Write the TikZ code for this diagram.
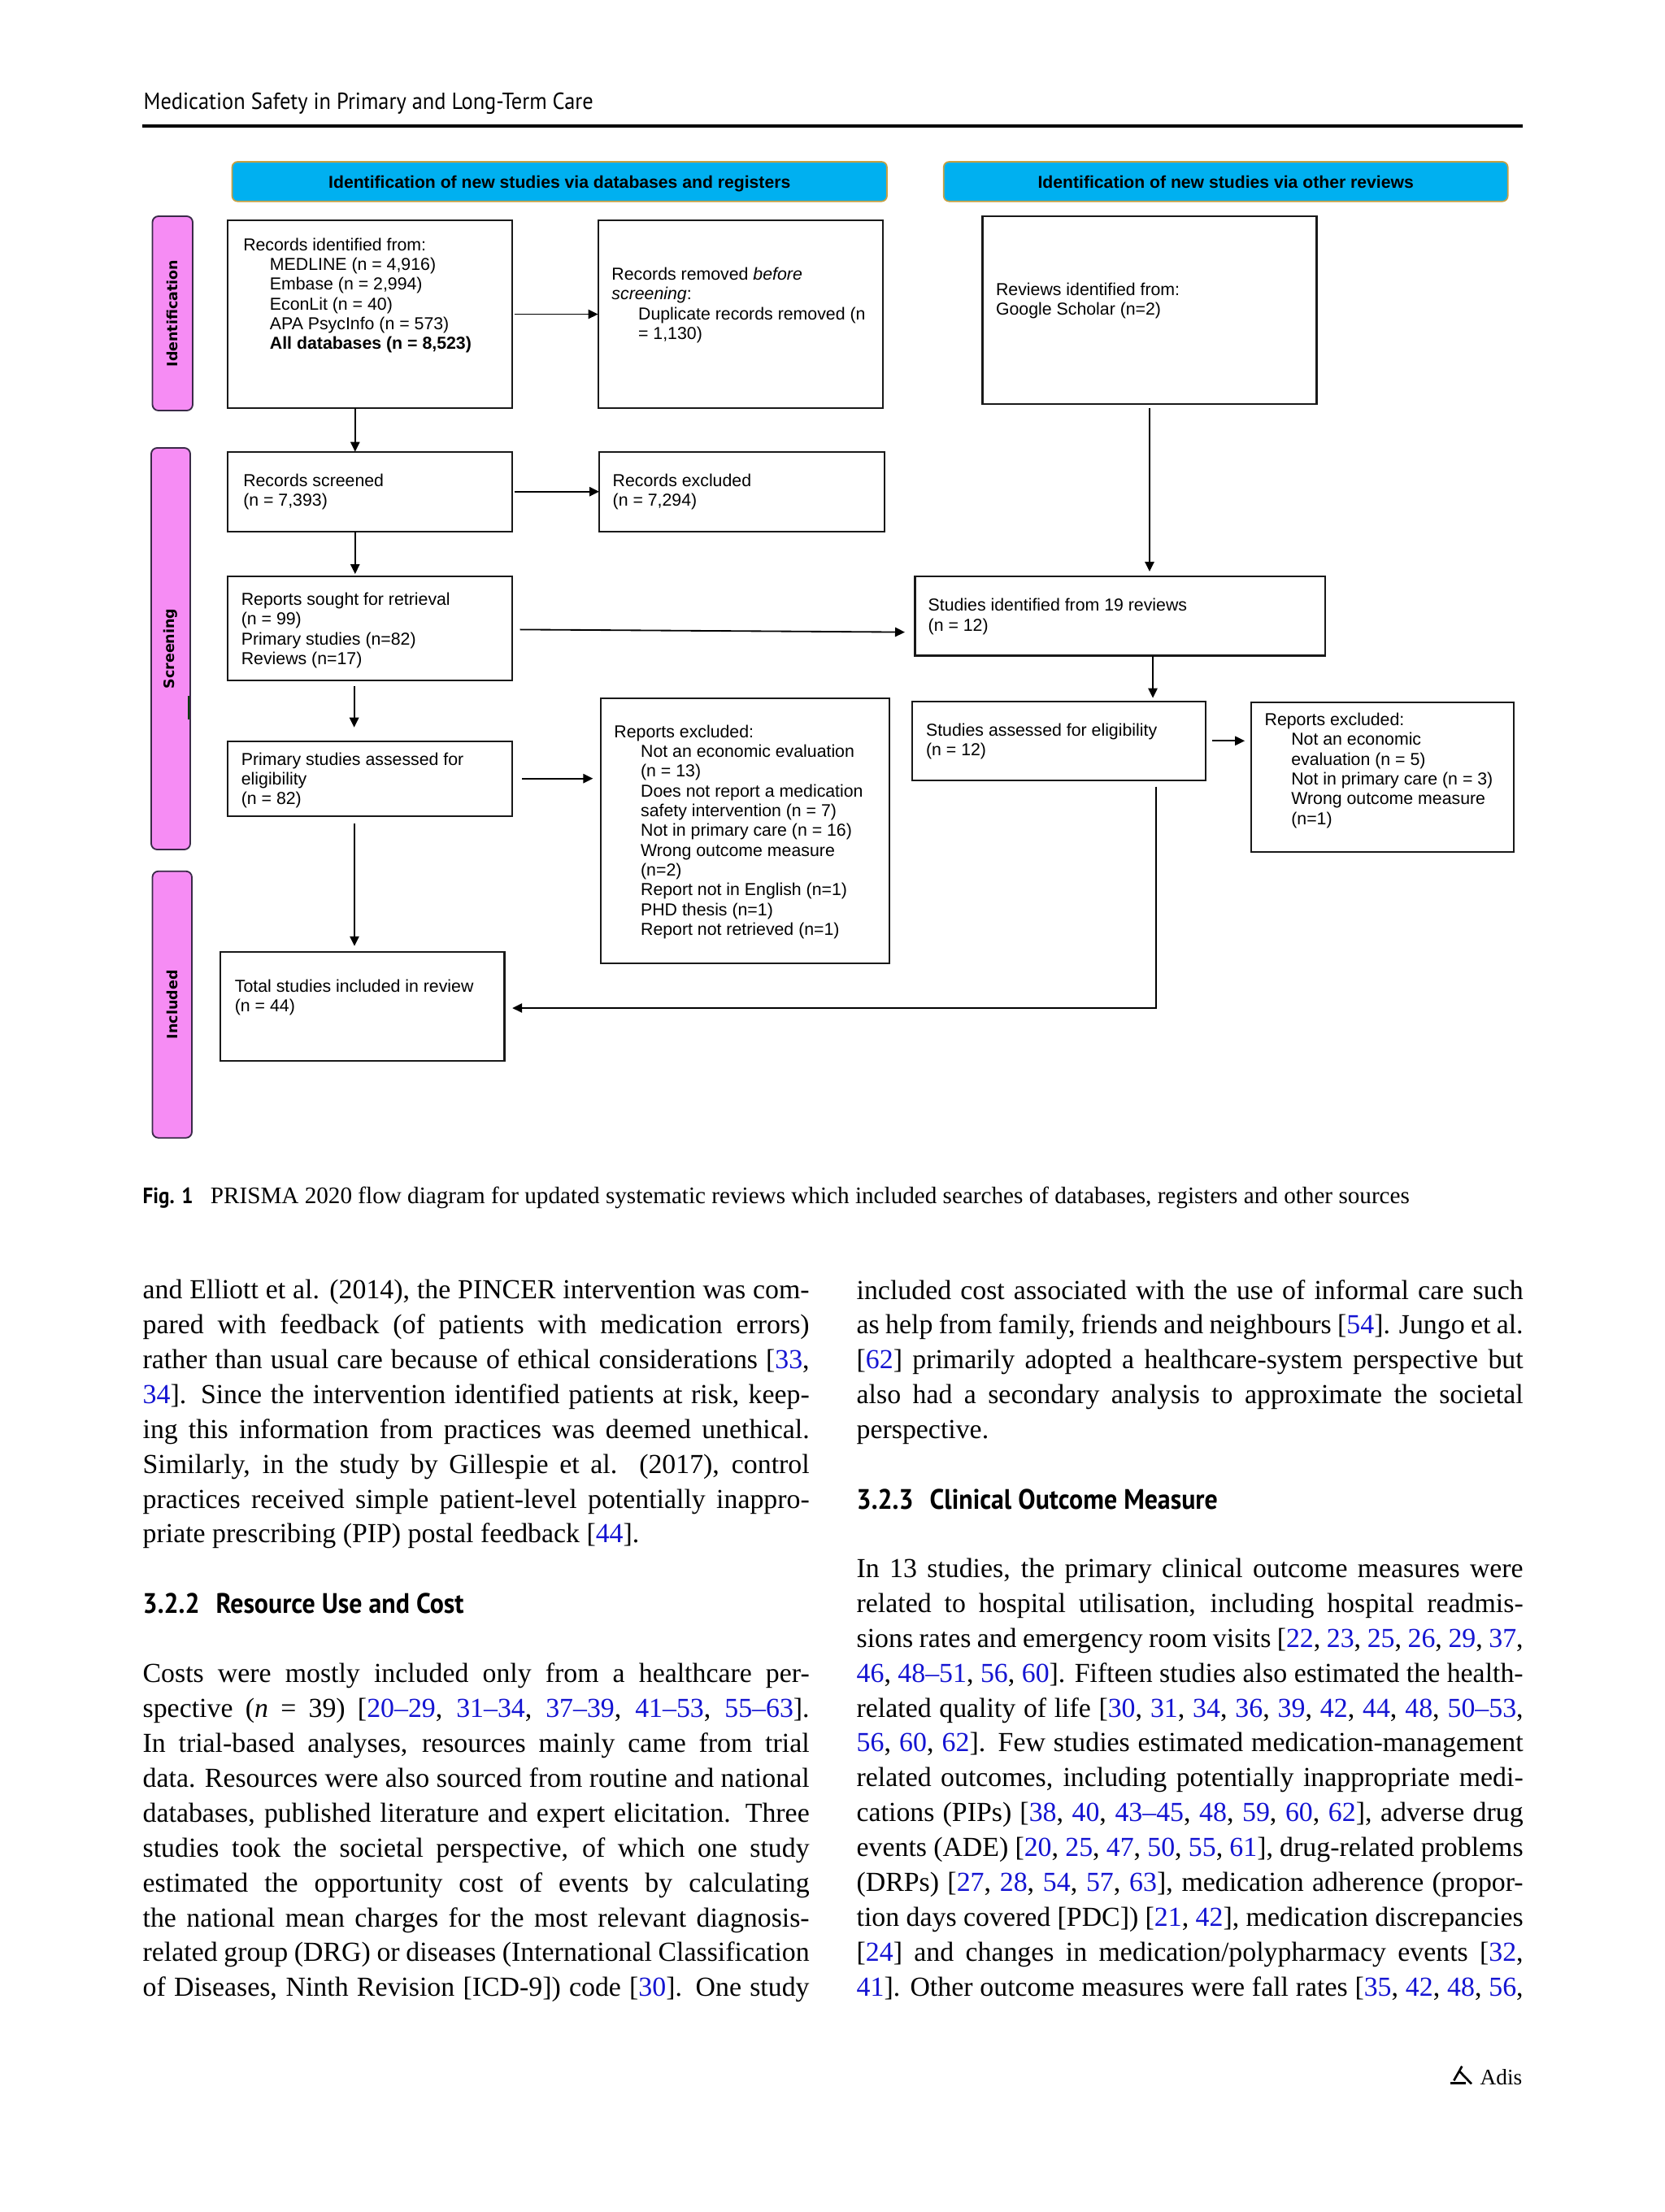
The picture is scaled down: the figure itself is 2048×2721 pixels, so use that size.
\documentclass[tikz,border=0pt]{standalone}
\usepackage{fontspec}
\setmainfont{Liberation Serif}
\newfontfamily\boxfont{Liberation Sans}
\newfontfamily\tabfont{DejaVu Sans}
\newfontfamily\headfont[FakeStretch=0.92]{PT Sans}
\usetikzlibrary{arrows.meta,calc,positioning}
\definecolor{headblue}{HTML}{00B0F0}
\definecolor{headedge}{HTML}{C8A040}
\definecolor{tabpink}{HTML}{F68CF4}
\definecolor{tabedge}{HTML}{3A2A48}
\definecolor{linkblue}{HTML}{1414D2}
\newcommand{\px}{*0.3pt}
\newcommand{\boxindent}{\hspace*{9.8pt}}
\newcommand{\jl}[1]{\makebox[246pt][s]{#1}}
\newcommand{\cit}[1]{\textcolor{linkblue}{#1}}
\tikzset{
  flowbox/.style={draw=black!90, line width=0.62pt, fill=white, inner sep=0pt, outer sep=0pt},
  boxtext/.style={anchor=north west, inner sep=0pt, xshift=-0.3pt, yshift=-0.3pt, align=left, font=\boxfont\fontsize{6.39}{7.3}\selectfont, execute at begin node=\strut},
  headbox/.style={draw=headedge, line width=0.5pt, fill=headblue, rounded corners=2pt, inner sep=0pt, outer sep=0pt, minimum height=48.7\px, text height=4.6pt, text depth=0pt, font=\boxfont\bfseries\fontsize{6.35}{7}\selectfont},
  tabbox/.style={draw=tabedge, line width=0.55pt, fill=tabpink, rounded corners=2.2pt, inner sep=0pt, outer sep=0pt, rotate=90, font=\tabfont\bfseries\fontsize{5.25}{7}\selectfont},
  flowarrow/.style={-{Triangle[length=3.6pt,width=3.4pt]}, line width=0.55pt, black},
  bodytext/.style={anchor=north west, inner sep=0pt, yshift=-1.6pt, align=left, font=\fontsize{10.15}{12.87}\selectfont, execute at begin node=\strut},
  sechead/.style={anchor=base west, inner sep=0pt, font=\headfont\bfseries\fontsize{10.4}{13}\selectfont}
}
\begin{document}
\begin{tikzpicture}[x=0.3pt,y=-0.3pt]
    \useasboundingbox[fill=white] (0,0) rectangle (2048,2721);
    % page head
    \node[anchor=base west, inner sep=0pt, font=\headfont\fontsize{8.6}{10}\selectfont] (pagehead) at (176,134) {Medication Safety in Primary and Long-Term Care};
    \coordinate (ruleleft) at (175,155);
    \coordinate (ruleright) at (1873,155);
    \draw[line width=0.95pt] (ruleleft) -- (ruleright);
    % header bars
    \node[headbox, minimum width=805.5\px] (headdb) at (688.25,223.35) {Identification of new studies via databases and registers};
    \node[headbox, minimum width=694\px] (headrev) at (1507.7,223.35) {Identification of new studies via other reviews};
    % side tabs
    \node[tabbox, minimum width=239\px, minimum height=49.5\px] (tabid) at (212.25,385.5) {Identification};
    \node[tabbox, minimum width=494\px, minimum height=48\px] (tabscr) at (210,798) {Screening};
    \node[tabbox, minimum width=328\px, minimum height=48.5\px] (tabinc) at (211.75,1235.7) {Included};
    \draw[line width=0.55pt, black!60!green!60!black] (232.3,856) -- (232.3,885);
    % left column boxes
    \node[flowbox, minimum width=350\px, minimum height=231\px] (recid) at (455,386.5) {};
    \node[flowbox, minimum width=350.4\px, minimum height=231\px] (recrem) at (910.8,386.5) {};
    \node[flowbox, minimum width=350\px, minimum height=98\px] (recscr) at (455,604.7) {};
    \node[flowbox, minimum width=351\px, minimum height=98\px] (recexc) at (912.5,604.7) {};
    \node[flowbox, minimum width=350\px, minimum height=128\px] (sought) at (455,773) {};
    \node[flowbox, minimum width=350\px, minimum height=92\px] (primary) at (455,957.7) {};
    \node[flowbox, minimum width=355.3\px, minimum height=326.4\px] (repexc) at (916.35,1022.2) {};
    \node[flowbox, minimum width=349.7\px, minimum height=134.5\px] (total) at (445.65,1238) {};
    % right column boxes
    \node[flowbox, minimum width=411\px, minimum height=230.7\px] (reviews) at (1414,381.35) {};
    \node[flowbox, minimum width=504.5\px, minimum height=97.5\px] (identif) at (1377.75,757.75) {};
    \node[flowbox, minimum width=361\px, minimum height=97.4\px] (assessed) at (1302.5,911.3) {};
    \node[flowbox, minimum width=323\px, minimum height=184\px] (repexcb) at (1700.5,956) {};
    % box texts
    \node[boxtext] (recidtxt) at (299.6,291) {Records identified from:\\\boxindent MEDLINE (n = 4,916)\\\boxindent Embase (n = 2,994)\\\boxindent EconLit (n = 40)\\\boxindent APA PsycInfo (n = 573)\\\boxindent\textbf{All databases (n = 8,523)}};
    \node[boxtext] (recremtxt) at (752.8,327.5) {Records removed \textit{before}\\\textit{screening}:\\\boxindent Duplicate records removed (n\\\boxindent = 1,130)};
    \node[boxtext] (recscrtxt) at (299.6,581.3) {Records screened\\(n = 7,393)};
    \node[boxtext] (recexctxt) at (754,581.3) {Records excluded\\(n = 7,294)};
    \node[boxtext] (soughttxt) at (297.2,727.3) {Reports sought for retrieval\\(n = 99)\\Primary studies (n=82)\\Reviews (n=17)};
    \node[boxtext] (primarytxt) at (297.2,924) {Primary studies assessed for\\eligibility\\(n = 82)};
    \node[boxtext] (repexctxt) at (755.8,890) {Reports excluded:\\\boxindent Not an economic evaluation\\\boxindent (n = 13)\\\boxindent Does not report a medication\\\boxindent safety intervention (n = 7)\\\boxindent Not in primary care (n = 16)\\\boxindent Wrong outcome measure\\\boxindent (n=2)\\\boxindent Report not in English (n=1)\\\boxindent PHD thesis (n=1)\\\boxindent Report not retrieved (n=1)};
    \node[boxtext] (totaltxt) at (289.2,1203) {Total studies included in review\\(n = 44)};
    \node[boxtext] (reviewstxt) at (1225.4,346.4) {Reviews identified from:\\Google Scholar (n=2)};
    \node[boxtext] (identiftxt) at (1142,734.7) {Studies identified from 19 reviews\\(n = 12)};
    \node[boxtext] (assessedtxt) at (1139.4,888) {Studies assessed for eligibility\\(n = 12)};
    \node[boxtext] (repexcbtxt) at (1556,875.4) {Reports excluded:\\\boxindent Not an economic\\\boxindent evaluation (n = 5)\\\boxindent Not in primary care (n = 3)\\\boxindent Wrong outcome measure\\\boxindent (n=1)};
    % connectors
    \coordinate (downa) at (436.8,0);
    \coordinate (downb) at (435.6,0);
    \coordinate (downc) at (436,0);
    \coordinate (downd) at (1418,0);
    \coordinate (soughtout) at (639.5,774.4);
    \coordinate (identin) at (1113,777.6);
    \coordinate (elbow) at (1422,1240);
    \draw[flowarrow, shorten <=0.8pt] (recid.east) -- (recrem.west);
    \draw[flowarrow] (downa |- recid.south) -- (downa |- recscr.north);
    \draw[flowarrow, shorten <=0.8pt] (recscr.east) -- (recexc.west);
    \draw[flowarrow, shorten >=0.9pt] (downa |- recscr.south) -- (downa |- sought.north);
    \draw[flowarrow] (soughtout) -- (identin);
    \draw[flowarrow, shorten <=2pt, shorten >=5.1pt] (downb |- sought.south) -- (downb |- primary.north);
    \draw[flowarrow, shorten <=3.6pt, shorten >=2.8pt] (primary.east) -- (primary.east -| repexc.west);
    \draw[flowarrow, shorten <=2.7pt, shorten >=2.1pt] (downc |- primary.south) -- (downc |- total.north);
    \draw[flowarrow, shorten <=1.5pt, shorten >=1.8pt] (reviews.south) -- (reviews.south |- identif.north);
    \draw[flowarrow, shorten >=1.2pt] (downd |- identif.south) -- (downd |- assessed.north);
    \draw[flowarrow, shorten <=2.4pt, shorten >=2.4pt] (assessed.east) -- (assessed.east -| repexcb.west);
    \draw[flowarrow, shorten <=2.3pt, shorten >=2.9pt] (elbow |- assessed.south) -- (elbow) -- (elbow -| total.east);
    % caption
    \node[anchor=base west, inner sep=0pt, font=\fontsize{8.75}{11}\selectfont] (caption) at (175,1480.7) {{\headfont\bfseries\fontsize{8.2}{11}\selectfont Fig. 1}\hspace{6.4pt}PRISMA 2020 flow diagram for updated systematic reviews which included searches of databases, registers and other sources};
    % left text column
    \node[bodytext] (parleft) at (175,1568.2) {\jl{and Elliott et al. (2014), the PINCER intervention was com-}\\
      \jl{pared with feedback (of patients with medication errors)}\\
      \jl{rather than usual care because of ethical considerations [\cit{33},}\\
      \jl{\cit{34}]. Since the intervention identified patients at risk, keep-}\\
      \jl{ing this information from practices was deemed unethical.}\\
      \jl{Similarly, in the study by Gillespie et al. (2017), control}\\
      \jl{practices received simple patient-level potentially inappro-}\\
      priate prescribing (PIP) postal feedback [\cit{44}].};
    \node[sechead] (secres) at (175,1984.3) {3.2.2\hspace{6pt}Resource Use and Cost};
    \node[bodytext] (parcost) at (175,2039.9) {\jl{Costs were mostly included only from a healthcare per-}\\
      \jl{spective (\textit{n} = 39) [\cit{20–29}, \cit{31–34}, \cit{37–39}, \cit{41–53}, \cit{55–63}].}\\
      \jl{In trial-based analyses, resources mainly came from trial}\\
      \jl{data. Resources were also sourced from routine and national}\\
      \jl{databases, published literature and expert elicitation. Three}\\
      \jl{studies took the societal perspective, of which one study}\\
      \jl{estimated the opportunity cost of events by calculating}\\
      \jl{the national mean charges for the most relevant diagnosis-}\\
      \jl{related group (DRG) or diseases (International Classification}\\
      \jl{of Diseases, Ninth Revision [ICD-9]) code [\cit{30}]. One study}};
    % right text column
    \node[bodytext] (parright) at (1053,1568.2) {\jl{included cost associated with the use of informal care such}\\
      \jl{as help from family, friends and neighbours [\cit{54}]. Jungo et al.}\\
      \jl{[\cit{62}] primarily adopted a healthcare-system perspective but}\\
      \jl{also had a secondary analysis to approximate the societal}\\
      perspective.};
    \node[sechead] (secout) at (1053,1856) {3.2.3\hspace{6pt}Clinical Outcome Measure};
    \node[bodytext] (parout) at (1053,1910.9) {\jl{In 13 studies, the primary clinical outcome measures were}\\
      \jl{related to hospital utilisation, including hospital readmis-}\\
      \jl{sions rates and emergency room visits [\cit{22}, \cit{23}, \cit{25}, \cit{26}, \cit{29}, \cit{37},}\\
      \jl{\cit{46}, \cit{48–51}, \cit{56}, \cit{60}]. Fifteen studies also estimated the health-}\\
      \jl{related quality of life [\cit{30}, \cit{31}, \cit{34}, \cit{36}, \cit{39}, \cit{42}, \cit{44}, \cit{48}, \cit{50–53},}\\
      \jl{\cit{56}, \cit{60}, \cit{62}]. Few studies estimated medication-management}\\
      \jl{related outcomes, including potentially inappropriate medi-}\\
      \jl{cations (PIPs) [\cit{38}, \cit{40}, \cit{43–45}, \cit{48}, \cit{59}, \cit{60}, \cit{62}], adverse drug}\\
      \jl{events (ADE) [\cit{20}, \cit{25}, \cit{47}, \cit{50}, \cit{55}, \cit{61}], drug-related problems}\\
      \jl{(DRPs) [\cit{27}, \cit{28}, \cit{54}, \cit{57}, \cit{63}], medication adherence (propor-}\\
      \jl{tion days covered [PDC]) [\cit{21}, \cit{42}], medication discrepancies}\\
      \jl{[\cit{24}] and changes in medication/polypharmacy events [\cit{32},}\\
      \jl{\cit{41}]. Other outcome measures were fall rates [\cit{35}, \cit{42}, \cit{48}, \cit{56},}};
    % publisher mark
    \node[anchor=base east, inner sep=0pt, font=\fontsize{8.2}{10}\selectfont] (adis) at (1873,2564.3) {Adis};
    \draw[line width=0.8pt] (1788.3,2559.3) -- (1798.3,2541.7);
    \draw[line width=0.8pt] (1795,2547.7) -- (1810,2563.3);
    \draw[line width=0.8pt] (1784.3,2562.7) -- (1803.3,2562.7);
\end{tikzpicture}
\end{document}
